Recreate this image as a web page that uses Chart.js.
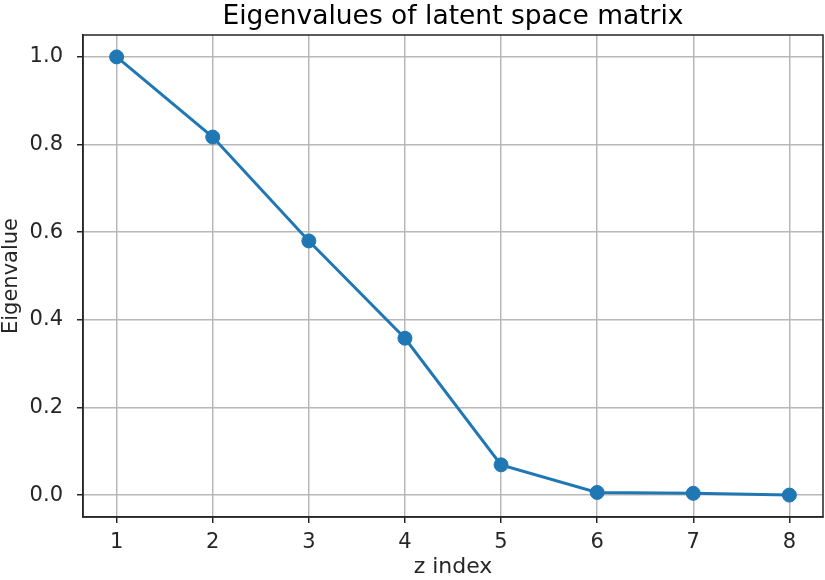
<!DOCTYPE html>
<html>
<head>
<meta charset="utf-8">
<script src="https://cdn.jsdelivr.net/npm/chart.js@4.4.1/dist/chart.umd.min.js"></script>
<style>
  html, body { margin: 0; padding: 0; background: #fff; }
  #wrap { width: 825px; height: 580px; }
</style>
</head>
<body>
<div id="wrap"><canvas id="chart" width="825" height="580"></canvas></div>
<script>
// data
const zIndex = [1, 2, 3, 4, 5, 6, 7, 8];
const eigenvalues = [1.0, 0.817, 0.58, 0.358, 0.069, 0.006, 0.004, 0.0];
const xTicks = [1, 2, 3, 4, 5, 6, 7, 8];
const yTicks = [0.0, 0.2, 0.4, 0.6, 0.8, 1.0];

const FONT = 'DejaVu Sans';

// matplotlib-ish box round the plot area
const frame = {
  id: 'frame',
  afterDraw(chart) {
    const { ctx, chartArea: a } = chart;
    ctx.save();
    ctx.strokeStyle = '#262626';
    ctx.lineWidth = 1.5;
    ctx.strokeRect(a.left, a.top, a.right - a.left, a.bottom - a.top);
    ctx.restore();
  }
};

const ctx = document.getElementById('chart').getContext('2d');
new Chart(ctx, {
  type: 'line',
  data: {
    datasets: [{
      data: zIndex.map((x, i) => ({ x: x, y: eigenvalues[i] })),
      borderColor: '#1f77b4',
      backgroundColor: '#1f77b4',
      borderWidth: 3,
      pointRadius: 7,
      pointBorderWidth: 1,
      pointBorderColor: '#1f77b4',
      tension: 0,
      fill: false,
      clip: false
    }]
  },
  options: {
    responsive: false,
    animation: false,
    devicePixelRatio: 1,
    layout: { autoPadding: false, padding: { left: 0, right: 2, top: 0, bottom: 0 } },
    plugins: {
      legend: { display: false },
      tooltip: { enabled: false },
      title: {
        display: true,
        text: 'Eigenvalues of latent space matrix',
        fullSize: false,
        color: '#000',
        font: { family: FONT, size: 26.5, weight: 'normal', lineHeight: 1.2 },
        padding: { top: 1, bottom: 2.2 }
      }
    },
    scales: {
      x: {
        type: 'linear',
        min: 0.65,
        max: 8.35,
        afterBuildTicks: s => { s.ticks = xTicks.map(v => ({ value: v })); },
        afterFit: s => { s.height = 63; s.paddingLeft = 0; s.paddingRight = 0; },
        ticks: {
          color: '#262626',
          font: { family: FONT, size: 21 },
          padding: 7,
          maxRotation: 0,
          callback: v => String(v)
        },
        grid: { color: '#b8b8b8', lineWidth: 1.5, tickColor: '#262626', tickLength: 6, drawTicks: true },
        border: { color: '#262626', width: 1.5 },
        title: {
          display: true,
          text: 'z index',
          color: '#262626',
          font: { family: FONT, size: 22, lineHeight: 1.2 },
          padding: { top: 0, bottom: 0 }
        }
      },
      y: {
        type: 'linear',
        min: -0.05,
        max: 1.05,
        afterBuildTicks: s => { s.ticks = yTicks.map(v => ({ value: v })); },
        afterFit: s => { s.width = 83; s.paddingTop = 0; s.paddingBottom = 0; },
        ticks: {
          color: '#262626',
          font: { family: FONT, size: 21 },
          padding: 14,
          callback: v => v.toFixed(1)
        },
        grid: { color: '#b8b8b8', lineWidth: 1.5, tickColor: '#262626', tickLength: 6, drawTicks: true },
        border: { color: '#262626', width: 1.5 },
        title: {
          display: true,
          text: 'Eigenvalue',
          color: '#262626',
          font: { family: FONT, size: 21, lineHeight: 1.2 },
          padding: { top: -1.5, bottom: 0 }
        }
      }
    }
  },
  plugins: [frame]
});
</script>
</body>
</html>
